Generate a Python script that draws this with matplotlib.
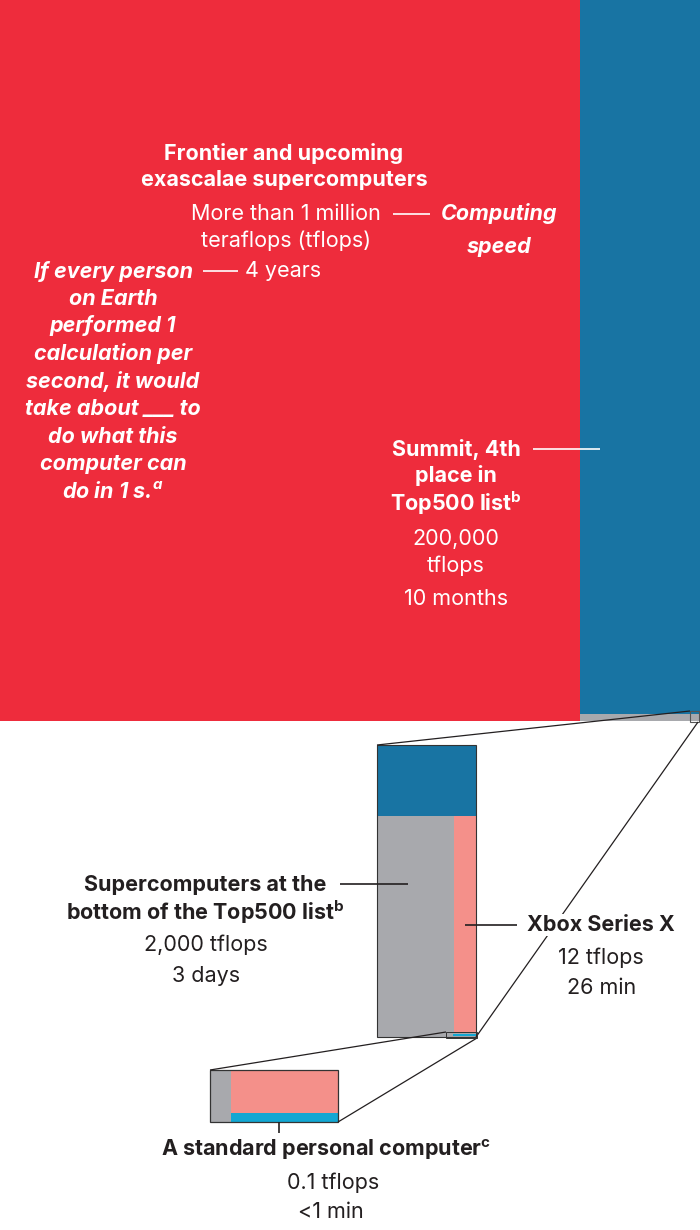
import matplotlib
matplotlib.use("Agg")
import matplotlib.pyplot as plt
from matplotlib.patches import Rectangle

FONT = 'Inter'
plt.rcParams['font.family'] = [FONT, 'DejaVu Sans']
plt.rcParams['mathtext.fontset'] = 'custom'
plt.rcParams['mathtext.rm'] = FONT
plt.rcParams['mathtext.bf'] = FONT + ':bold'
plt.rcParams['mathtext.it'] = FONT + ':italic:bold'

# ---- data ----
systems = ["Frontier and upcoming\nexascalae supercomputers",
           "Summit, 4th\nplace in\nTop500 list",
           "Supercomputers at the\nbottom of the Top500 list",
           "Xbox Series X",
           "A standard personal computer"]
footnotes = ["", "b", "b", "", "c"]
speed_labels = ["More than 1 million\nteraflops (tflops)", "200,000\ntflops",
                "2,000 tflops", "12 tflops", "0.1 tflops"]
time_labels = ["4 years", "10 months", "3 days", "26 min", "<1 min"]
tflops = [1_000_000, 200_000, 2_000, 12, 0.1]

# ---- styles ----
RED = "#EE2C3C"
BLUE = "#1874A3"
GRAY = "#A8A9AD"
SALMON = "#F4908A"
CYAN = "#12A7D3"
INK = "#231F20"
WHITE = "#FFFFFF"

fig = plt.figure(figsize=(7, 12.3), dpi=100)
ax = fig.add_axes([0, 0, 1, 1])
ax.set_xlim(0, 700)
ax.set_ylim(1230, 0)
ax.axis('off')

def rect(x, y, w, h, fc, ec='none', lw=0, z=1):
    ax.add_patch(Rectangle((x, y), w, h, facecolor=fc, edgecolor=ec, linewidth=lw, zorder=z))

def seg(x0, y0, x1, y1, c, lw=1.0, z=3):
    ax.plot([x0, x1], [y0, y1], color=c, lw=lw, zorder=z, solid_capstyle='butt')

def lines(x, ys, txt, c, size, weight='normal', style='normal', sup=None, bg=None):
    parts = txt.split("\n")
    for i, (yy, t) in enumerate(zip(ys, parts)):
        if sup and i == len(parts) - 1:
            t = t + (r"$^{\mathbf{%s}}$" % sup if style == 'normal' else r"$^{\mathit{%s}}$" % sup)
        kw = {}
        if bg:
            kw['bbox'] = dict(facecolor=bg, edgecolor='none', pad=1)
        ax.text(x, yy, t, color=c, fontsize=size, fontweight=weight, fontstyle=style,
                ha='center', va='center', zorder=5, **kw)

# ---- top level: Frontier (red) and Summit (blue) ----
rect(0, 0, 580, 721, RED)
rect(580, 0, 120, 714, BLUE)
rect(580, 714, 120, 7, GRAY)
rect(690, 711, 9, 11, 'none', ec='#555555', lw=0.8, z=2)

# ---- middle zoom ----
rect(377, 745, 99, 71, BLUE)
rect(377, 816, 99, 221, GRAY)
rect(454, 816, 22, 217, SALMON)
rect(377, 745, 99, 292, 'none', ec='#333333', lw=0.8, z=2)
rect(453, 1033.5, 23, 2, CYAN, z=2)
rect(446, 1032, 31, 6, 'none', ec='#333333', lw=0.7, z=3)

# ---- bottom zoom ----
rect(210, 1070, 21, 52, GRAY)
rect(231, 1070, 107, 43, SALMON)
rect(231, 1113, 107, 9, CYAN)
rect(210, 1070, 128, 52, 'none', ec='#333333', lw=0.9, z=2)

# connector lines
seg(377, 745, 690, 711, INK, 0.9, z=2)
seg(698, 722, 476, 1037, INK, 0.9, z=2)
seg(210, 1070, 446, 1032, INK, 0.9, z=2)
seg(338, 1122, 477, 1038, INK, 0.9, z=2)

# ---- labels ----
FS_B = 15.5
FS_R = 15.5
# Frontier
lines(284, [153, 180], systems[0], WHITE, FS_B, 'bold')
lines(286, [214, 241], speed_labels[0], WHITE, FS_R)
seg(393, 214, 430, 214, WHITE, 1.2)
lines(499, [214, 247], "Computing\nspeed", WHITE, FS_B, 'bold', 'italic')
lines(283, [271], time_labels[0], WHITE, FS_R)
seg(203, 271, 238, 271, WHITE, 1.2)
explain = ("If every person\non Earth\nperformed 1\ncalculation per\nsecond, it would\n"
           "take about ___ to\ndo what this\ncomputer can\ndo in 1 s.")
lines(113, [271, 299, 326, 354, 381, 409, 437, 464, 492], explain, WHITE, FS_B, 'bold', 'italic', sup='a')

# Summit
lines(456, [449, 476, 503], systems[1], WHITE, FS_B, 'bold', sup=footnotes[1])
seg(533, 449, 600, 449, WHITE, 1.2)
lines(456, [539, 566], speed_labels[1], WHITE, FS_R)
lines(456, [599], time_labels[1], WHITE, FS_R)

# bottom of Top500
lines(205, [885, 912], systems[2], INK, FS_B, 'bold', sup=footnotes[2])
seg(340, 884, 408, 884, INK, 1.2, z=4)
lines(206, [945], speed_labels[2], INK, FS_R)
lines(206, [976], time_labels[2], INK, FS_R)

# Xbox
lines(601, [925], systems[3], INK, FS_B, 'bold', bg=WHITE)
seg(465, 925, 517, 925, INK, 1.2, z=4)
lines(601, [958], speed_labels[3], INK, FS_R)
lines(602, [988], time_labels[3], INK, FS_R)

# PC
seg(279, 1122, 279, 1133, INK, 1.2, z=4)
lines(326, [1150], systems[4], INK, FS_B, 'bold', sup=footnotes[4])
lines(333, [1183], speed_labels[4], INK, FS_R)
lines(331, [1212], time_labels[4], INK, FS_R)

fig.savefig("out.png", dpi=100)
